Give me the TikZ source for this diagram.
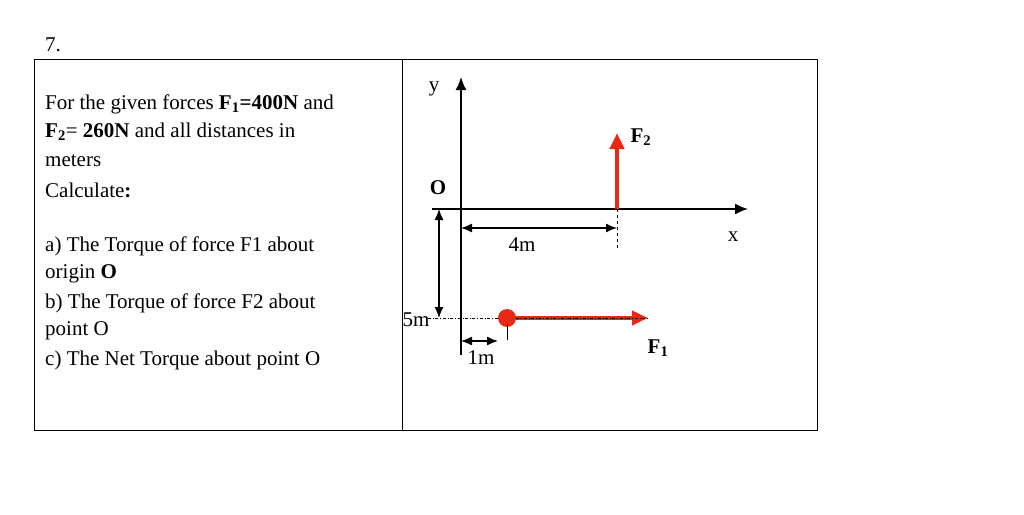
\documentclass[tikz,border=0pt]{standalone}
\usetikzlibrary{arrows.meta}
\usepackage{fontspec}
\setmainfont{Liberation Serif}
\definecolor{fred}{RGB}{235,40,20}
\begin{document}
\begin{tikzpicture}[x=1pt,y=-1pt,
  txt/.style={font=\fontsize{21}{24}\selectfont,inner sep=0pt},
  ln/.style={anchor=west,txt},
  ax/.style={line width=1.6pt,-{Latex[length=13pt,width=11pt]}},
  dim/.style={line width=1.3pt,{Latex[length=11pt,width=9pt]}-{Latex[length=11pt,width=9pt]}},
  force/.style={fred,line width=4pt,-{Triangle[length=16pt,width=14pt]}}]
\useasboundingbox (0,0) rectangle (1024,514);
\draw[line width=1pt] (34,59) rectangle (817,430);
\draw[line width=1pt] (402,59) -- (402,430);
\node[ln] (n7) at (45,45) {7.};
\node[ln] (l1) at (45,104) {For the given forces \textbf{F\textsubscript{1}=400N} and};
\node[ln] (l2) at (45,132) {\textbf{F\textsubscript{2}}= \textbf{260N} and all distances in};
\node[ln] (l3) at (45,161) {meters};
\node[ln] (l4) at (45,190) {Calculate\textbf{:}};
\node[ln] (l5) at (45,246) {a) The Torque of force F1 about};
\node[ln] (l6) at (45,274) {origin \textbf{O}};
\node[ln] (l7) at (45,303) {b) The Torque of force F2 about};
\node[ln] (l8) at (45,331) {point O};
\node[ln] (l9) at (45,360) {c) The Net Torque about point O};
% axes
\coordinate (yb) at (461,355);
\coordinate (yt) at (461,77);
\coordinate (xl) at (432,209);
\coordinate (xr) at (748,209);
\draw[ax] (yb) -- (yt);
\draw[ax] (xl) -- (xr);
\node[txt] (ylab) at (434,89) {y};
\node[txt,font=\fontsize{21}{24}\selectfont\bfseries] (olab) at (438,188) {O};
\node[txt] (xlab) at (733,237) {x};
% F2
\coordinate (f2a) at (617,209);
\coordinate (f2b) at (617,133);
\draw[force] (f2a) -- (f2b);
\node[txt] (f2l) at (641,137) {\textbf{F\textsubscript{2}}};
\coordinate (d2) at (617,248);
\draw[dashed,line width=0.7pt] (f2a) -- (d2);
% 4m
\coordinate (a4) at (461,228);
\coordinate (b4) at (617,228);
\draw[dim] (a4) -- (b4);
\node[txt] (m4) at (522,245) {4m};
% 5m
\coordinate (a5) at (439,209);
\coordinate (b5) at (439,318);
\draw[dim] (a5) -- (b5);
\node[txt] (m5) at (416,320) {5m};
% F1
\coordinate (dl) at (428,318);
\coordinate (dr) at (645,318);
\draw[dash dot,line width=0.7pt] (dl) -- (dr);
\node[circle,fill=fred,minimum size=18pt,inner sep=0pt] (dot) at (507,318) {};
\coordinate (f1e) at (648,318);
\draw[force] (dot.center) -- (f1e);
\draw[dash dot,line width=0.7pt] (dot.east) -- (f1e);
\node[txt] (f1l) at (658,348) {\textbf{F\textsubscript{1}}};
% 1m
\coordinate (a1) at (461,341);
\coordinate (b1) at (498,341);
\draw[dim] (a1) -- (b1);
\coordinate (t1) at (507,324);
\coordinate (t2) at (507,340);
\draw[line width=0.7pt] (t1) -- (t2);
\node[txt] (m1) at (481,358) {1m};
\end{tikzpicture}
\end{document}
